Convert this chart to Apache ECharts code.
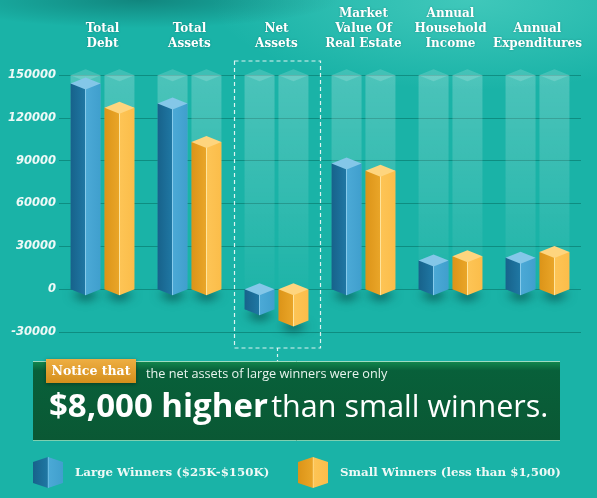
<!DOCTYPE html>
<html>
<head>
<meta charset="utf-8">
<script src="https://cdn.jsdelivr.net/npm/echarts@6/dist/echarts.min.js"></script>
<style>
html,body{margin:0;padding:0;}
body{width:597px;height:498px;overflow:hidden;
background:
 radial-gradient(ellipse 200px 28px at 140px 0px, rgba(0,50,50,0.35), rgba(0,50,50,0) 100%),
 radial-gradient(ellipse 260px 90px at 470px 0px, rgba(110,225,210,0.45), rgba(110,225,210,0) 100%),
 #1ab3a7;}
#c{width:597px;height:498px;}
</style>
</head>
<body>
<div id="c"></div>
<script>
// ---- data ----
const categories = ["Total\nDebt", "Total\nAssets", "Net\nAssets", "Market\nValue Of\nReal Estate", "Annual\nHousehold\nIncome", "Annual\nExpenditures"];
const largeWinners = [144000, 130000, -14000, 88000, 20000, 22000];
const smallWinners = [127000, 103000, -22000, 83000, 23000, 26000];
const ghostTop = [150000, 150000, 150000, 150000, 150000, 150000];
const yTicks = { min: -30000, max: 150000, interval: 30000 };
const largeName = "Large Winners ($25K-$150K)";
const smallName = "Small Winners (less than $1,500)";

const chart = echarts.init(document.getElementById('c'), null, { renderer: 'canvas' });

function hGrad(stops) {
  return new echarts.graphic.LinearGradient(0, 0, 1, 0, stops.map(c => ({ offset: c[0], color: c[1] })));
}
const blueFace = hGrad([[0, '#17628b'], [0.48, '#1f77a3'], [0.5, '#8fd3f2'], [0.53, '#4ba9d6'], [1, '#409fcd']]);
const yellowFace = hGrad([[0, '#dc9418'], [0.48, '#e9a528'], [0.5, '#ffe6a0'], [0.53, '#fdc455'], [1, '#fbbd4a']]);
const ghostFace = new echarts.graphic.LinearGradient(0, 0, 0, 1, [
  { offset: 0, color: 'rgba(255,255,255,0.22)' },
  { offset: 0.6, color: 'rgba(255,255,255,0.10)' },
  { offset: 1, color: 'rgba(255,255,255,0.02)' }
]);

const topItems = arr => arr.map(v => ({ value: v, symbolPosition: v < 0 ? 'start' : 'end' }));
const bottomItems = arr => arr.map(v => ({ value: v, symbolPosition: v < 0 ? 'end' : 'start' }));

const catLabel = {
  color: '#ffffff', fontFamily: 'DejaVu Serif', fontWeight: 'bold', fontSize: 12,
  lineHeight: 15, margin: 24, interval: 0,
  textShadowColor: 'rgba(0,60,60,0.35)', textShadowBlur: 2
};
const hiddenX = { type: 'category', data: categories, position: 'top', show: false };
const cubeIcon = 'path://M0,5 L15,0 L30,5 L30,26 L15,31 L0,26 Z';
const legendText = { color: '#eef9f6', fontFamily: 'DejaVu Serif', fontWeight: 'bold', fontSize: 11.8 };
const groundShadow = { shadowColor: 'rgba(0,45,45,0.55)', shadowBlur: 10, shadowOffsetY: 6 };

const option = {
  animation: false,
  backgroundColor: 'transparent',
  grid: { left: 59, right: 16, top: 75, bottom: 166 },
  xAxis: [
    { type: 'category', data: categories, position: 'top',
      axisLine: { show: false }, axisTick: { show: false }, axisLabel: catLabel },
    Object.assign({}, hiddenX),
    Object.assign({}, hiddenX)
  ],
  yAxis: {
    type: 'value', min: yTicks.min, max: yTicks.max, interval: yTicks.interval,
    axisLine: { show: false }, axisTick: { show: false },
    axisLabel: { color: '#eef9f7', fontFamily: 'DejaVu Sans', fontStyle: 'italic', fontWeight: 'bold', fontSize: 11.5, margin: 3,
      formatter: v => String(v) },
    splitLine: { lineStyle: { color: 'rgba(0,95,85,0.45)', width: 1 } }
  },
  legend: [
    { left: 28, top: 452, itemWidth: 44, itemHeight: 31, icon: cubeIcon, data: [largeName], textStyle: legendText },
    { left: 293, top: 452, itemWidth: 44, itemHeight: 31, icon: cubeIcon, data: [smallName], textStyle: legendText }
  ],
  series: [
    // ghost columns
    { name: 'ghostL', type: 'bar', xAxisIndex: 1, data: ghostTop, barWidth: 30, barGap: '13%', z: 1,
      itemStyle: { color: ghostFace }, silent: true },
    { name: 'ghostS', type: 'bar', xAxisIndex: 1, data: ghostTop, barWidth: 30, barGap: '13%', z: 1,
      itemStyle: { color: ghostFace }, silent: true },
    { name: 'ghostCapL', type: 'pictorialBar', xAxisIndex: 1, data: ghostTop, barWidth: 30, barGap: '13%',
      symbol: 'diamond', symbolSize: [30, 12], symbolPosition: 'end', symbolOffset: [0, '-50%'], z: 2, silent: true,
      itemStyle: { color: 'rgba(255,255,255,0.16)', borderColor: 'rgba(255,255,255,0.35)', borderWidth: 1 } },
    { name: 'ghostCapS', type: 'pictorialBar', xAxisIndex: 1, data: ghostTop, barWidth: 30, barGap: '13%',
      symbol: 'diamond', symbolSize: [30, 12], symbolPosition: 'end', symbolOffset: [0, '-50%'], z: 2, silent: true,
      itemStyle: { color: 'rgba(255,255,255,0.16)', borderColor: 'rgba(255,255,255,0.35)', borderWidth: 1 } },
    // bottom points
    { name: 'botL', type: 'pictorialBar', xAxisIndex: 2, data: bottomItems(largeWinners), barWidth: 30, barGap: '13%',
      symbol: 'diamond', symbolSize: [30, 12], symbolOffset: [0, '50%'], z: 3,
      itemStyle: Object.assign({ color: blueFace }, groundShadow) },
    { name: 'botS', type: 'pictorialBar', xAxisIndex: 2, data: bottomItems(smallWinners), barWidth: 30, barGap: '13%',
      symbol: 'diamond', symbolSize: [30, 12], symbolOffset: [0, '50%'], z: 3,
      itemStyle: Object.assign({ color: yellowFace }, groundShadow) },
    // real bars
    { name: largeName, type: 'bar', xAxisIndex: 0, data: largeWinners, barWidth: 30, barGap: '13%', z: 4,
      itemStyle: { color: blueFace } },
    { name: smallName, type: 'bar', xAxisIndex: 0, data: smallWinners, barWidth: 30, barGap: '13%', z: 4,
      itemStyle: { color: yellowFace } },
    // top caps
    { name: 'capL', type: 'pictorialBar', xAxisIndex: 0, data: topItems(largeWinners), barWidth: 30, barGap: '13%',
      symbol: 'diamond', symbolSize: [30, 12], symbolOffset: [0, '-50%'], z: 5, itemStyle: { color: '#84c7e8' } },
    { name: 'capS', type: 'pictorialBar', xAxisIndex: 0, data: topItems(smallWinners), barWidth: 30, barGap: '13%',
      symbol: 'diamond', symbolSize: [30, 12], symbolOffset: [0, '-50%'], z: 5, itemStyle: { color: '#fed57e' } }
  ]
};
chart.setOption(option);

// decorations positioned from the axes
const cx = chart.convertToPixel({ xAxisIndex: 0 }, categories[2]);
const yTop = chart.convertToPixel({ yAxisIndex: 0 }, yTicks.max);
const yBot = chart.convertToPixel({ yAxisIndex: 0 }, yTicks.min);
const boxL = cx - 42, boxR = cx + 44, boxT = yTop - 14, boxB = yBot + 16;

chart.setOption({
  graphic: [
    { type: 'rect', z: 0, silent: true,
      shape: { x: boxL, y: boxT, width: boxR - boxL, height: boxB - boxT },
      style: { fill: 'none', stroke: 'rgba(255,255,255,0.85)', lineWidth: 1.2, lineDash: [4, 3] } },
    { type: 'line', z: 0, silent: true,
      shape: { x1: cx + 1, y1: boxB, x2: cx + 1, y2: 361 },
      style: { stroke: 'rgba(255,255,255,0.85)', lineWidth: 1.2, lineDash: [3, 3] } },
    // banner
    { type: 'rect', z: 10, silent: true,
      shape: { x: 33, y: 361, width: 527, height: 80 },
      style: { fill: new echarts.graphic.LinearGradient(0, 0, 0, 1, [
        { offset: 0, color: '#138a4f' }, { offset: 0.12, color: '#08603a' }, { offset: 1, color: '#0a5834' }]),
        stroke: null } },
    { type: 'line', z: 11, silent: true, shape: { x1: 33, y1: 361.5, x2: 560, y2: 361.5 },
      style: { stroke: '#9fdcc0', lineWidth: 1 } },
    { type: 'line', z: 11, silent: true, shape: { x1: 33, y1: 440.5, x2: 560, y2: 440.5 },
      style: { stroke: '#7fcfb0', lineWidth: 1 } },
    { type: 'rect', z: 12, silent: true,
      shape: { x: 46, y: 359, width: 90, height: 24 },
      style: { fill: new echarts.graphic.LinearGradient(0, 0, 0, 1, [
        { offset: 0, color: '#eeae42' }, { offset: 1, color: '#d48f1c' }]),
        shadowColor: 'rgba(0,0,0,0.35)', shadowBlur: 4, shadowOffsetY: 1 } },
    { type: 'text', z: 13, silent: true, x: 91, y: 371.5,
      style: { text: 'Notice that', fill: '#ffffff', font: 'bold 12.5px "DejaVu Serif"', align: 'center', verticalAlign: 'middle' } },
    { type: 'text', z: 13, silent: true, x: 146, y: 374,
      style: { text: 'the net assets of large winners were only', fill: '#e8f4ee', font: '12.7px "Open Sans"', verticalAlign: 'middle' } },
    { type: 'text', z: 13, silent: true, x: 49, y: 408,
      style: {
        text: '{b|$8,000 higher} {r|than small winners.}', verticalAlign: 'middle',
        rich: {
          b: { fill: '#ffffff', fontFamily: 'Open Sans', fontWeight: 'bold', fontSize: 33 },
          r: { fill: '#ffffff', fontFamily: 'Open Sans', fontWeight: 'normal', fontSize: 30.5 }
        }
      } }
  ]
});
</script>
</body>
</html>
